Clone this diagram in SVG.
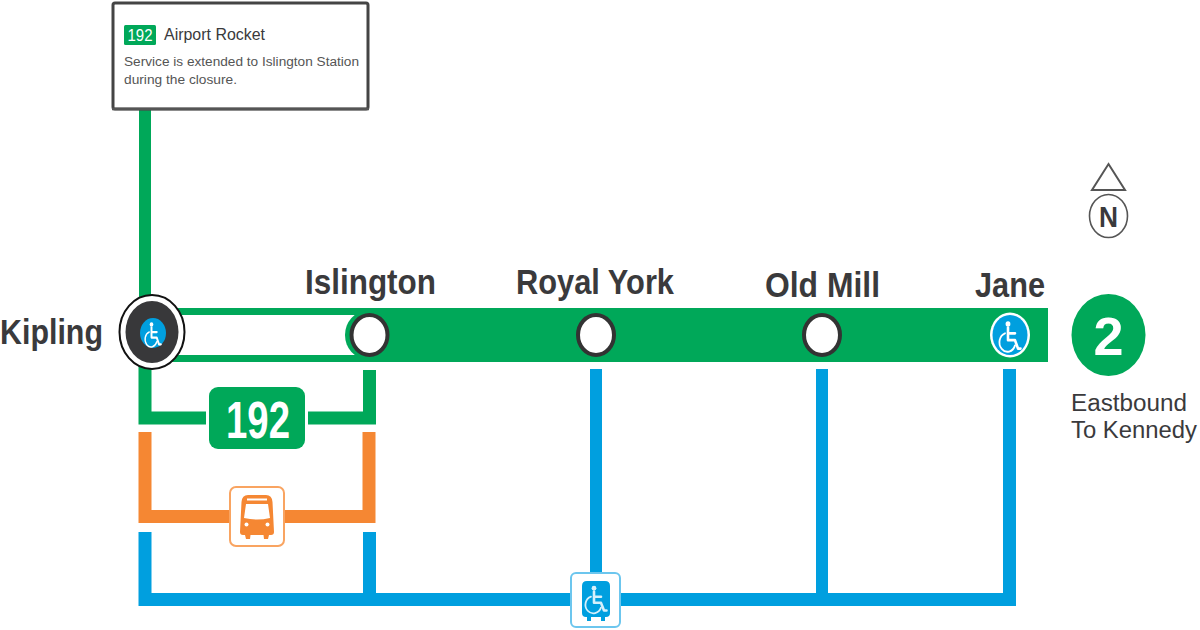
<svg xmlns="http://www.w3.org/2000/svg" xmlns:xlink="http://www.w3.org/1999/xlink" width="1200" height="630" viewBox="0 0 1200 630">
<style>
text{font-family:"Liberation Sans",Arial,sans-serif;fill:#3a3a3c}
.st{font-size:35px;font-weight:bold}
.g{stroke:#00a859;fill:none}
.o{stroke:#f58733;fill:none}
.b{stroke:#009fdf;fill:none}
.stop{fill:#fff;stroke:#333;stroke-width:4}
.halo{fill:#00a859}
</style>
<defs>
<g id="wc" fill="none" stroke-linecap="round" stroke-linejoin="round">
<ellipse cx="0" cy="-12.5" rx="2.4" ry="2.6" fill="currentColor" stroke="none"/>
<path d="M0-9V3H7L10 11H12.500M0-3.500H7" stroke="currentColor" stroke-width="2.600"/>
<path d="M-3-3.500A8 9 0 1 0 7 8" stroke="currentColor" stroke-width="1.800"/>
</g>
</defs>
<g id="connectors">
<path class="g" stroke-width="12" d="M145 108V300"/>
<path class="g" stroke-width="13" d="M145 360V418H369.500V370" stroke-linejoin="miter"/>
<path class="o" stroke-width="13" d="M145 432V516.500H369V432" stroke-linejoin="miter"/>
<path class="b" stroke-width="13" d="M145 532V599.500H1009.500V369"/>
<path class="b" stroke-width="13" d="M369.500 532V599"/>
<path class="b" stroke-width="12" d="M596 369V599"/>
<path class="b" stroke-width="12" d="M822 369V599"/>
</g>
<g id="line-2">
<path fill="#00a859" d="M160 308H1048V362H160Z"/>
<path fill="#fff" d="M170 315H358V355H170Z"/>
</g>
<g id="kipling">
<ellipse cx="152" cy="332" rx="32.500" ry="37" fill="#fff" stroke="#111" stroke-width="2"/>
<ellipse cx="152" cy="332" rx="26.500" ry="31" fill="#38383a"/>
<ellipse cx="153" cy="333" rx="13" ry="15" fill="#009fdf"/>
<use xlink:href="#wc" href="#wc" transform="translate(151.500 335) scale(.75 .85)" color="#fff"/>
<text class="st" x="0" y="344" textLength="103" lengthAdjust="spacingAndGlyphs">Kipling</text>
</g>
<g id="islington">
<ellipse cx="367" cy="335" rx="22" ry="24" class="halo"/>
<ellipse cx="369.500" cy="335" rx="18" ry="20" class="stop"/>
<text class="st" x="305" y="294" textLength="131" lengthAdjust="spacingAndGlyphs">Islington</text>
</g>
<g id="royal-york">
<ellipse cx="596" cy="335" rx="18" ry="20" class="stop"/>
<text class="st" x="516" y="294" textLength="158" lengthAdjust="spacingAndGlyphs">Royal York</text>
</g>
<g id="old-mill">
<ellipse cx="822" cy="335" rx="18" ry="20" class="stop"/>
<text class="st" x="765" y="297" textLength="115" lengthAdjust="spacingAndGlyphs">Old Mill</text>
</g>
<g id="jane">
<ellipse cx="1010" cy="335" rx="20" ry="22.500" fill="#fff"/>
<ellipse cx="1010" cy="335" rx="17.500" ry="20" fill="#009fdf"/>
<use xlink:href="#wc" href="#wc" transform="translate(1008 337) scale(1 1.050)" color="#fff"/>
<text class="st" x="975" y="297" textLength="70" lengthAdjust="spacingAndGlyphs">Jane</text>
</g>
<g id="badge-192">
<rect x="206" y="385" width="102" height="66" fill="#fff"/>
<rect x="209" y="387" width="96" height="62" rx="9" fill="#00a859"/>
<text x="258" y="438" text-anchor="middle" font-size="52" font-weight="bold" style="fill:#fff" textLength="64" lengthAdjust="spacingAndGlyphs">192</text>
</g>
<g id="bus-orange">
<rect x="230" y="487" width="54" height="59" rx="6" fill="#fff" stroke="#f9a461" stroke-width="2"/>
<path fill="#f58733" d="M248 495H266Q272 495 272.500 502L274 532Q274 535 271 535H269L268 539H264L263.500 535H250.500L250 539H246L245 535H243Q240 535 240 532L241.500 502Q242 495 248 495Z"/>
<path fill="#fff" d="M246 504H268L270 518Q257 521 244 518ZM247 498.500H267V500.500H247Z"/>
<circle cx="246.500" cy="524.500" r="2" fill="#fff"/><circle cx="267.500" cy="524.500" r="2" fill="#fff"/>
</g>
<g id="bus-accessible">
<rect x="571" y="573" width="49" height="54" rx="5" fill="#fff" stroke="#6cc6ee" stroke-width="2"/>
<path fill="#009fdf" d="M587 581H605Q610 581 610 586V613Q610 617 606 617H605V621H601V617H591V621H587V617H586Q582 617 582 613V586Q582 581 587 581Z"/>
<use xlink:href="#wc" href="#wc" transform="translate(594 600) scale(1 .95)" color="#d6f0fb"/>
</g>
<g id="callout">
<rect x="113" y="3" width="255" height="106" rx="2" fill="#fff" stroke="#444" stroke-width="3"/>
<path d="M112 109H369" stroke="#555" stroke-width="2.500"/>
<rect x="124" y="25" width="32" height="20" rx="1.500" fill="#00a859"/>
<text x="140" y="41" text-anchor="middle" font-size="16" style="fill:#fff" textLength="25" lengthAdjust="spacingAndGlyphs">192</text>
<text x="164" y="40" font-size="16" textLength="101" lengthAdjust="spacingAndGlyphs">Airport Rocket</text>
<text x="124" y="66" font-size="12.500" style="fill:#555" textLength="235" lengthAdjust="spacingAndGlyphs">Service is extended to Islington Station</text>
<text x="124" y="84" font-size="12.500" style="fill:#555" textLength="113" lengthAdjust="spacingAndGlyphs">during the closure.</text>
</g>
<g id="north">
<path d="M1108.500 164L1125 190H1092Z" fill="#fff" stroke="#555" stroke-width="2"/>
<ellipse cx="1108.500" cy="216" rx="19" ry="21.500" fill="#fff" stroke="#555" stroke-width="1.600"/>
<text x="1108.500" y="227" text-anchor="middle" font-size="30" font-weight="bold" textLength="19" lengthAdjust="spacingAndGlyphs">N</text>
</g>
<g id="line-badge">
<ellipse cx="1108.500" cy="335" rx="37" ry="41" fill="#00a859"/>
<text x="1108.500" y="355" text-anchor="middle" font-size="54" font-weight="bold" style="fill:#fff">2</text>
<text x="1071" y="411" font-size="23.500" textLength="116" lengthAdjust="spacingAndGlyphs">Eastbound</text>
<text x="1071" y="438" font-size="23.500" textLength="126" lengthAdjust="spacingAndGlyphs">To Kennedy</text>
</g>
</svg>
